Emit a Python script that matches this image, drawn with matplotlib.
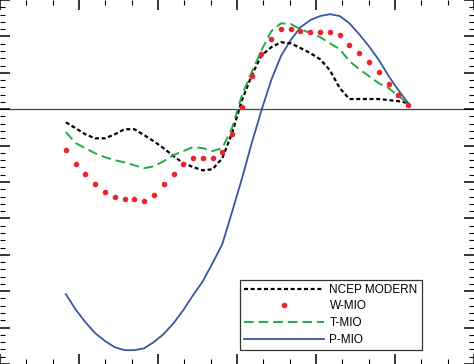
import numpy as np
import matplotlib
matplotlib.use("Agg")
import matplotlib.pyplot as plt
from matplotlib.ticker import MultipleLocator

plt.rcParams['font.family'] = ['Liberation Sans', 'DejaVu Sans']

# latitude grid (same for every series)
lat = [-65.0, -61.3, -57.6, -53.9, -50.1, -46.4, -42.7, -39.0, -35.3, -31.6,
       -27.9, -24.1, -20.4, -16.7, -13.0, -9.3, -5.6, -1.9, 1.9, 5.6,
       9.3, 13.0, 16.7, 20.4, 24.1, 27.9, 31.6, 35.3, 39.0, 42.7,
       46.4, 50.1, 53.9, 57.6, 61.3, 65.0]

ncep_modern = [-0.36, -0.52, -0.69, -0.80, -0.80, -0.69, -0.55, -0.55, -0.71, -0.88,
               -1.07, -1.29, -1.48, -1.59, -1.68, -1.65, -1.35, -0.66, 0.25, 0.93,
               1.48, 1.70, 1.84, 1.81, 1.68, 1.54, 1.37, 1.07, 0.58, 0.28,
               0.28, 0.28, 0.28, 0.25, 0.22, 0.17]

w_mio = [-1.13, -1.51, -1.79, -2.06, -2.28, -2.42, -2.47, -2.47, -2.53, -2.36,
         -2.06, -1.79, -1.51, -1.35, -1.35, -1.35, -1.18, -0.69, 0.05, 0.91,
         1.51, 1.92, 2.20, 2.20, 2.14, 2.12, 2.12, 2.12, 2.03, 1.76,
         1.54, 1.29, 1.02, 0.69, 0.39, 0.11]

t_mio = [-0.63, -0.93, -1.07, -1.21, -1.32, -1.40, -1.46, -1.54, -1.62, -1.57,
         -1.43, -1.26, -1.15, -1.04, -1.07, -1.15, -1.07, -0.52, 0.39, 1.02,
         1.62, 2.14, 2.36, 2.34, 2.20, 2.09, 1.98, 1.81, 1.65, 1.32,
         1.10, 0.91, 0.71, 0.58, 0.36, 0.17]

p_mio = [-5.08, -5.50, -5.85, -6.15, -6.37, -6.54, -6.62, -6.62, -6.57, -6.40,
         -6.18, -5.88, -5.52, -5.11, -4.73, -4.23, -3.71, -2.83, -1.90, -0.93,
         -0.03, 0.80, 1.46, 1.90, 2.25, 2.45, 2.56, 2.61, 2.56, 2.36,
         2.06, 1.73, 1.35, 0.91, 0.52, 0.17]

fig = plt.figure(figsize=(4.74, 3.64), dpi=100)
ax = fig.add_axes([0, 0, 1, 1])

ax.axhline(0, color='#444444', lw=0.9, zorder=1)

ax.plot(lat, ncep_modern, color='black', lw=1.6, linestyle=(0, (1.8, 1.2)),
        label='NCEP MODERN', zorder=3)
ax.plot(lat, w_mio, linestyle='none', marker='o', markersize=4,
        color='#e8262b', markeredgewidth=0, label='W-MIO', zorder=4)
ax.plot(lat, t_mio, color='#26a84a', lw=1.4, linestyle=(0, (5, 2.5)),
        label='T-MIO', zorder=3)
ax.plot(lat, p_mio, color='#3a55a4', lw=1.3, label='P-MIO', zorder=2)

ax.set_xlim(-90, 90)
ax.set_ylim(-7, 3)
ax.xaxis.set_major_locator(MultipleLocator(30))
ax.xaxis.set_minor_locator(MultipleLocator(10))
ax.yaxis.set_major_locator(MultipleLocator(1))
ax.yaxis.set_minor_locator(MultipleLocator(0.2))
ax.tick_params(which='both', direction='in', top=True, right=True,
               labelbottom=False, labelleft=False, color='black')
ax.tick_params(which='major', length=7.2, width=1.1)
ax.tick_params(which='minor', length=3.6, width=0.8)
for s in ax.spines.values():
    s.set_visible(False)

leg = ax.legend(loc='lower right', bbox_to_anchor=(0.890, 0.0385),
                borderaxespad=0, fontsize=8.5, handlelength=6.7,
                handletextpad=0.5, labelspacing=0.4, borderpad=0.35,
                numpoints=1, fancybox=False, framealpha=1)
leg.get_frame().set_edgecolor('#333333')
leg.get_frame().set_linewidth(0.9)

fig.savefig('out.png', dpi=100)
